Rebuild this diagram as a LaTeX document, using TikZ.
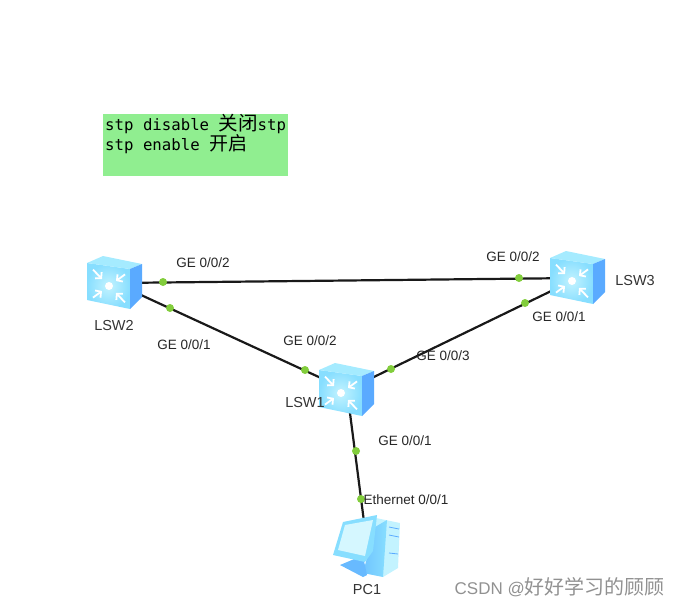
\documentclass[tikz,border=0pt]{standalone}
\usepackage{fontspec}
\usetikzlibrary{arrows.meta}
\setmainfont{Liberation Sans}
\setmonofont{DejaVu Sans Mono}
\newfontfamily\cjkfont{Noto Sans CJK SC}
\definecolor{notegreen}{RGB}{144,238,144}
\definecolor{portgreen}{RGB}{130,205,60}
\definecolor{iconfront}{RGB}{135,222,255}
\definecolor{icontop}{RGB}{165,235,255}
\definecolor{iconside}{RGB}{90,170,255}
\definecolor{iconinner}{RGB}{195,243,255}
\definecolor{markgrey}{RGB}{145,145,145}
\tikzset{
  portlabel/.style={font=\fontsize{13.5}{15}\selectfont, text=black!85, inner sep=0pt},
  devlabel/.style={font=\fontsize{14.5}{16}\selectfont, text=black!80, inner sep=0pt},
  portdot/.style={circle, fill=portgreen, inner sep=0pt, minimum size=8pt},
  devnode/.style={inner sep=0pt, minimum size=1pt},
  link/.style={line width=2.2pt, black!90},
  switchicon/.pic={
    \shade[inner color=iconinner, outer color=iconfront] (-28,-20) -- (15,-14) -- (15,26) -- (-28,17) -- cycle;
    \fill[icontop] (-28,-20) -- (-12,-27) -- (27,-19) -- (15,-14) -- cycle;
    \fill[iconside] (15,-14) -- (27,-19) -- (27,14) -- (15,26) -- cycle;
    \fill[white] (-6,3) circle (4);
    \foreach \sx/\sy in {-1/-1, 1/-1, -1/1, 1/1}
      \draw[white, line width=1.8pt, -{Straight Barb[length=4pt,width=9pt]}]
        (-6+16*\sx,3+14*\sy+2.4*\sx) -- (-6+7*\sx,3+6*\sy+1*\sx);
  },
  pcicon/.pic={
    % tower
    \fill[iconinner] (-6,-25) -- (9,-27) -- (33,-22) -- (31,23) -- (16,32) -- cycle;
    \shade[left color=iconside!50!iconfront, right color=iconfront] (8,-18) -- (20,-25) -- (16,32) -- (-4,28) -- cycle;
    \draw[iconside, line width=0.8pt] (22,-18) -- (32,-16) (22,-10) -- (32,-8) (22,8) -- (31,9);
    % stand
    \fill[iconside!70!iconfront] (-27,20) -- (-8,12) -- (-3,16) -- (0,30) -- (-4,32) -- cycle;
    % monitor
    \fill[iconfront] (-24,-23) -- (10,-30) -- (6,6) -- (-2,17) -- (-34,10) -- cycle;
    \fill[iconinner!70!white] (-22,-20) -- (6,-25) -- (-2,11) -- (-29,5) -- cycle;
  }
}
\begin{document}
\begin{tikzpicture}[x=1pt, y=-1pt]
  \useasboundingbox (0,0) rectangle (679,606);

  % Note
  \node[fill=notegreen, minimum width=185pt, minimum height=62pt, inner sep=0pt] (note) at (195.5,145) {};
  \node[anchor=west, inner sep=0pt, font=\ttfamily\fontsize{15.7}{18}\selectfont] (note1) at (105,124) {stp disable {\cjkfont\fontsize{19.5}{18}\selectfont 关闭}stp};
  \node[anchor=west, inner sep=0pt, font=\ttfamily\fontsize{15.7}{18}\selectfont] (note2) at (105,144) {stp enable {\cjkfont\fontsize{19}{18}\selectfont 开启}};

  % Devices
  \node[devnode] (lsw2) at (115,283) {};
  \node[devnode] (lsw1) at (347,390) {};
  \node[devnode] (lsw3) at (578,278) {};
  \node[devnode] (pc1) at (367,545) {};

  % Links
  \draw[link] (lsw2) -- (lsw3);
  \draw[link] (lsw2) -- (lsw1);
  \draw[link] (lsw1) -- (lsw3);
  \draw[link] (lsw1) -- (pc1);

  % Icons
  \pic at (lsw2) {switchicon};
  \pic at (lsw1) {switchicon};
  \pic at (lsw3) {switchicon};
  \pic at (pc1) {pcicon};

  % Ports
  \node[portdot] (p21) at (163,282) {};
  \node[portdot] (p31) at (519,278) {};
  \node[portdot] (p22) at (170,308) {};
  \node[portdot] (p12) at (305,370) {};
  \node[portdot] (p13) at (391,369) {};
  \node[portdot] (p32) at (525,303) {};
  \node[portdot] (p11) at (356,451) {};
  \node[portdot] (pc0) at (361,499) {};

  % Labels
  \node[portlabel] (l21) at (203,263) {GE 0/0/2};
  \node[portlabel] (l22) at (184,345) {GE 0/0/1};
  \node[portlabel] (l12) at (310,341) {GE 0/0/2};
  \node[portlabel] (l13) at (443,356) {GE 0/0/3};
  \node[portlabel] (l31) at (513,257) {GE 0/0/2};
  \node[portlabel] (l32) at (559,317) {GE 0/0/1};
  \node[portlabel] (l11) at (405,441) {GE 0/0/1};
  \node[portlabel] (l0) at (406,500) {Ethernet 0/0/1};

  \node[devlabel] (n2) at (114,325) {LSW2};
  \node[devlabel] (n1) at (305,402) {LSW1};
  \node[devlabel] (n3) at (635,280) {LSW3};
  \node[devlabel] (n0) at (367,589) {PC1};

  % Watermark
  \node[anchor=east, inner sep=0pt, text=markgrey, font=\fontsize{17}{20}\selectfont] (mark) at (665,587) {CSDN @{\cjkfont\fontsize{20}{20}\selectfont 好好学习的顾顾}};
\end{tikzpicture}
\end{document}
